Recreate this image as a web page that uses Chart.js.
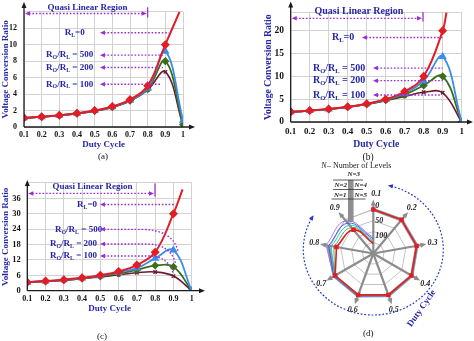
<!DOCTYPE html>
<html><head><meta charset="utf-8">
<script src="https://cdn.jsdelivr.net/npm/chart.js@4.4.1/dist/chart.umd.min.js"></script>
<style>
html,body{margin:0;padding:0;background:#fff;}
body{width:474px;height:341px;position:relative;overflow:hidden;}
canvas{position:absolute;}
</style></head><body>
<canvas id="ca" width="237" height="170" style="left:0;top:0"></canvas>
<canvas id="cb" width="234" height="170" style="left:240px;top:0"></canvas>
<canvas id="cc" width="237" height="171" style="left:0;top:170px"></canvas>
<canvas id="cd" width="234" height="181" style="left:240px;top:160px"></canvas>
<script>
// ---------------- DATA ----------------
const dutyCycle = [0.1,0.2,0.3,0.4,0.5,0.6,0.7,0.8,0.9,1.0];
const dutyTickLabels = ['0.1','0.2','0.3','0.4','0.5','0.6','0.7','0.8','0.9','1'];

// panel (a)
const aIdealDuty = [0.1,0.2,0.3,0.4,0.5,0.6,0.7,0.8,0.9,0.98];
const aIdeal     = [1.11,1.25,1.43,1.67,2.0,2.5,3.33,5.0,10.0,14.0];
const aRatio500  = [1.1,1.24,1.42,1.65,1.98,2.45,3.25,4.7,9.2,0.8];
const aRatio200  = [1.1,1.23,1.41,1.64,1.96,2.42,3.2,4.6,8.0,0.3];
const aRatio100  = [1.09,1.22,1.4,1.62,1.93,2.38,3.15,4.5,6.7,0.2];
const aYTicks = [0,2,4,6,8,10,12,14];
const aYTickLabels = ['0','2','4','6','8','10','12',''];

// panel (b)
const bIdealDuty = [0.1,0.2,0.3,0.4,0.5,0.6,0.7,0.8,0.9,0.92];
const bIdeal     = [2.22,2.5,2.86,3.33,4.0,5.0,6.67,10.0,20.0,24.0];
const bRatio500  = [2.2,2.48,2.83,3.3,3.95,4.9,6.3,9.0,14.3,0];
const bRatio200  = [2.2,2.47,2.82,3.28,3.9,4.8,6.0,8.0,10.0,0];
const bRatio100  = [2.18,2.45,2.8,3.25,3.85,4.65,5.6,6.5,6.4,0];
const bYTicks = [0,5,10,15,20,24];
const bYTickLabels = ['0','5','10','15','20',''];

// panel (c)
const cIdealDuty = [0.1,0.2,0.3,0.4,0.5,0.6,0.7,0.8,0.9,0.95];
const cIdeal     = [3.33,3.75,4.29,5.0,6.0,7.5,10.0,15.0,30.0,39.5];
const cRatio500  = [3.3,3.7,4.2,4.9,5.8,7.1,8.8,12.6,15.8,0];
const cRatio200  = [3.3,3.68,4.15,4.8,5.6,6.7,8.1,9.8,9.3,0];
const cRatio100  = [3.28,3.65,4.1,4.7,5.4,6.2,7.0,7.3,5.7,0];
const cYTicks = [0,6,12,18,24,30,36,42];
const cYTickLabels = ['0','6','12','18','24','30','36',''];

// panel (d) radar (value axis reversed: 0 outside)
const radarDuty = ['0.1','0.2','0.3','0.4','0.5','0.6','0.7','0.8','0.9'];
const levelN1 = [0,0,0,0,0,0,0,30,60];
const levelN2 = [0,0,0,-1,-2,-2,-3,18,46];
const levelN3 = [0,0,-1,-2,-3,-4,-5,6,33];
const levelN4 = [0,-1,-1,-3,-4,-5,-7,-6,20];
const levelN5 = [0,-1,-2,-3,-5,-6,-8,-18,6];
const levelAtDutyOne = [155,148,141,134,127];
const radarTicks = [0,50,100];

// ---------------- STYLE ----------------
const SERIF = '"Liberation Serif","Times New Roman",serif';
const TXT_BLUE = '#2626a6', PURPLE = '#9b2bd8';
const RED = '#e31d25', BLUE = '#3a8ee8', GREEN = '#3b6e1c', BROWN = '#6b1c2c';

function head(ctx, x, y, ang, len, wid, col) {
  ctx.save(); ctx.translate(x, y); ctx.rotate(ang);
  ctx.beginPath(); ctx.moveTo(0, 0); ctx.lineTo(-len, -wid/2); ctx.lineTo(-len, wid/2); ctx.closePath();
  ctx.fillStyle = col; ctx.fill(); ctx.restore();
}
function richText(ctx, parts, x, y, size, color) {
  let cx = x;
  ctx.fillStyle = color; ctx.textBaseline = 'middle'; ctx.textAlign = 'left';
  for (const [t, sub] of parts) {
    const s = sub ? size * 0.65 : size;
    ctx.font = `bold ${s}px ${SERIF}`;
    ctx.fillText(t, cx, sub ? y + size * 0.3 : y);
    cx += ctx.measureText(t).width;
  }
}
function annotPlugin(an) {
  return {
    id: 'annot' + an.key,
    afterDraw(chart) {
      const {ctx, chartArea: ca, scales: {x, y}} = chart;
      const X = v => x.getPixelForValue(v), Y = v => y.getPixelForValue(v);
      ctx.save();
      ctx.strokeStyle = '#1a1a1a'; ctx.lineWidth = 1.3; ctx.setLineDash([]);
      ctx.beginPath(); ctx.moveTo(ca.left, ca.bottom); ctx.lineTo(ca.left, an.yTip + 4); ctx.stroke();
      head(ctx, ca.left, an.yTip, -Math.PI/2, 6, 5, '#1a1a1a');
      ctx.beginPath(); ctx.moveTo(ca.left, ca.bottom); ctx.lineTo(an.xTip - 4, ca.bottom); ctx.stroke();
      head(ctx, an.xTip, ca.bottom, 0, 6, 5, '#1a1a1a');
      const q = an.quasi;
      ctx.font = `bold ${an.fs}px ${SERIF}`; ctx.fillStyle = TXT_BLUE;
      ctx.textAlign = 'center'; ctx.textBaseline = 'middle';
      ctx.fillText(q.text, X(q.tx), Y(q.ty));
      ctx.strokeStyle = PURPLE; ctx.lineWidth = 1.4; ctx.setLineDash([1.6, 1.8]);
      ctx.beginPath(); ctx.moveTo(X(q.x0) + 5, Y(q.ay)); ctx.lineTo(X(q.x1) - 5, Y(q.ay)); ctx.stroke();
      head(ctx, X(q.x0) + 1, Y(q.ay), Math.PI, 5, 4.5, PURPLE);
      head(ctx, X(q.x1) - 1, Y(q.ay), 0, 5, 4.5, PURPLE);
      ctx.setLineDash([]); ctx.lineWidth = 1.2;
      ctx.beginPath(); ctx.moveTo(X(q.x1), Y(q.b0)); ctx.lineTo(X(q.x1), Y(q.b1)); ctx.stroke();
      for (const L of an.labels) {
        richText(ctx, L.parts, X(L.x), Y(L.y), an.fs, TXT_BLUE);
        ctx.strokeStyle = PURPLE; ctx.lineWidth = 1.4; ctx.setLineDash([1.6, 1.8]);
        ctx.beginPath(); ctx.moveTo(X(L.a0) + 4, Y(L.y));
        if (L.bend !== undefined) {
          ctx.lineTo(X(L.bend), Y(L.y));
          ctx.quadraticCurveTo(X(L.cx), Y(L.y), X(L.ex), Y(L.ey));
        } else {
          ctx.lineTo(X(L.a1), Y(L.y));
        }
        ctx.stroke();
        ctx.setLineDash([]);
        head(ctx, X(L.a0), Y(L.y), Math.PI, 5, 4.5, PURPLE);
      }
      ctx.font = `${an.capFs}px ${SERIF}`; ctx.fillStyle = '#111';
      ctx.textAlign = 'center'; ctx.textBaseline = 'middle';
      ctx.fillText(an.caption, an.capX, an.capY);
      ctx.restore();
    }
  };
}

function pts(xs, ys) { return ys.map((v, i) => ({x: xs[i], y: v})); }

function makeDatasets(idealX, ideal, r500, r200, r100) {
  return [
    {data: pts(idealX, ideal), borderColor: RED, backgroundColor: RED, borderWidth: 2,
     pointStyle: 'rectRot', pointRadius: ideal.map((v, i) => i < 9 ? 3.1 : 0)},
    {data: pts(dutyCycle, r500), borderColor: BLUE, backgroundColor: BLUE, borderWidth: 1.8,
     pointStyle: 'triangle', pointRadius: 3},
    {data: pts(dutyCycle, r200), borderColor: GREEN, backgroundColor: GREEN, borderWidth: 1.8,
     pointStyle: 'rectRot', pointRadius: 2.8},
    {data: pts(dutyCycle, r100), borderColor: BROWN, backgroundColor: BROWN, borderWidth: 1.6,
     pointStyle: 'crossRot', pointRadius: 2.4, pointBorderWidth: 1.4}
  ];
}

function lineChart(id, c) {
  return new Chart(document.getElementById(id), {
    type: 'line',
    data: {datasets: c.datasets},
    options: {
      responsive: false, animation: false, devicePixelRatio: 1,
      layout: {padding: c.padding},
      plugins: {legend: {display: false}, tooltip: {enabled: false}},
      elements: {line: {tension: 0.4}},
      scales: {
        x: {type: 'linear', min: 0.1, max: 1.0,
            afterBuildTicks: ax => { ax.ticks = dutyCycle.map(v => ({value: v})); },
            afterFit: ax => { ax.height = c.xAxisH; },
            grid: {color: '#d2d2d2', drawTicks: false}, border: {display: false},
            ticks: {padding: c.xTickPad, color: '#111', autoSkip: false, maxRotation: 0,
                    font: {family: SERIF, weight: 'bold', size: c.xTickFs},
                    callback: (v, i) => dutyTickLabels[i]},
            title: {display: true, text: 'Duty Cycle', color: TXT_BLUE, padding: 0,
                    font: {family: SERIF, weight: 'bold', size: c.titleFs}}},
        y: {type: 'linear', min: 0, max: c.yTicks[c.yTicks.length - 1],
            afterBuildTicks: ax => { ax.ticks = c.yTicks.map(v => ({value: v})); },
            afterFit: ax => { ax.width = c.yAxisW; },
            grid: {color: '#d2d2d2', drawTicks: false}, border: {display: false},
            ticks: {padding: c.yTickPad, color: '#111', autoSkip: false,
                    font: {family: SERIF, weight: 'bold', size: c.yTickFs},
                    callback: (v, i) => c.yTickLabels[i]},
            title: {display: true, text: 'Voltage Conversion Ratio', color: TXT_BLUE, padding: 0,
                    font: {family: SERIF, weight: 'bold', size: c.titleFs}}}
      }
    },
    plugins: [annotPlugin(c.annot)]
  });
}

const RL0 = [['R',0],['L',1],['=0',0]];
const RO500 = [['R',0],['O',1],['/R',0],['L',1],[' = 500',0]];
const RO200 = [['R',0],['O',1],['/R',0],['L',1],[' = 200',0]];
const RO100 = [['R',0],['O',1],['/R',0],['L',1],[' = 100',0]];

lineChart('ca', {
  datasets: makeDatasets(aIdealDuty, aIdeal, aRatio500, aRatio200, aRatio100),
  padding: {left: 0, right: 54, top: 11.5, bottom: 20}, xAxisH: 23, yAxisW: 24,
  xTickPad: 3.2, yTickPad: 7, xTickFs: 8, yTickFs: 8, titleFs: 9,
  yTicks: aYTicks, yTickLabels: aYTickLabels,
  annot: {key: 'a', fs: 9, yTip: 2, xTip: 195, caption: '(a)', capX: 103, capY: 157, capFs: 9,
    quasi: {text: 'Quasi Linear Region', tx: 0.46, ty: 14.5, ay: 13.8, x0: 0.1, x1: 0.8, b0: 14.55, b1: 13.3},
    labels: [
      {parts: RL0, x: 0.33, y: 11.45, a0: 0.53, a1: 0.92},
      {parts: RO500, x: 0.225, y: 8.73, a0: 0.53, a1: 0.886},
      {parts: RO200, x: 0.225, y: 7.24, a0: 0.53, a1: 0.886},
      {parts: RO100, x: 0.225, y: 5.2, a0: 0.53, a1: 0.87}
    ]}
});

lineChart('cb', {
  datasets: makeDatasets(bIdealDuty, bIdeal, bRatio500, bRatio200, bRatio100),
  padding: {left: 22.6, right: 12.3, top: 8, bottom: 19.6}, xAxisH: 28.4, yAxisW: 28.1,
  xTickPad: 4.2, yTickPad: 6.7, xTickFs: 9, yTickFs: 9.5, titleFs: 9.7,
  yTicks: bYTicks, yTickLabels: bYTickLabels,
  annot: {key: 'b', fs: 10, yTip: 1.5, xTip: 233, caption: '(b)', capX: 128, capY: 157, capFs: 9.5,
    quasi: {text: 'Quasi Linear Region', tx: 0.459, ty: 24.2, ay: 22.7, x0: 0.1, x1: 0.796, b0: 24.1, b1: 22.0},
    labels: [
      {parts: RL0, x: 0.317, y: 18.5, a0: 0.475, a1: 0.9},
      {parts: RO500, x: 0.217, y: 11.8, a0: 0.533, a1: 0.9},
      {parts: RO200, x: 0.217, y: 9.05, a0: 0.533, a1: 0.9},
      {parts: RO100, x: 0.217, y: 5.9, a0: 0.533, a1: 0.886}
    ]}
});

lineChart('cc', {
  datasets: makeDatasets(cIdealDuty, cIdeal, cRatio500, cRatio200, cRatio100),
  padding: {left: 0, right: 45.3, top: 12.9, bottom: 26.6}, xAxisH: 23.7, yAxisW: 27.3,
  xTickPad: 3.5, yTickPad: 6.5, xTickFs: 8, yTickFs: 8.5, titleFs: 9,
  yTicks: cYTicks, yTickLabels: cYTickLabels,
  annot: {key: 'c', fs: 9, yTip: 10, xTip: 205, caption: '(c)', capX: 102, capY: 167, capFs: 9,
    quasi: {text: 'Quasi Linear Region', tx: 0.457, ty: 40.5, ay: 37.9, x0: 0.1, x1: 0.799, b0: 41.8, b1: 36.6},
    labels: [
      {parts: RL0, x: 0.372, y: 33.6, a0: 0.498, a1: 0.908},
      {parts: RO500, x: 0.252, y: 23.9, a0: 0.498, bend: 0.72, cx: 0.9, ex: 0.926, ey: 15},
      {parts: RO200, x: 0.224, y: 18.2, a0: 0.498, bend: 0.75, cx: 0.885, ex: 0.912, ey: 10.5},
      {parts: RO100, x: 0.224, y: 13.5, a0: 0.498, bend: 0.77, cx: 0.87, ex: 0.9, ey: 6.5}
    ]}
});

// ---------------- RADAR (d) ----------------
const levelSeries = [levelN1, levelN2, levelN3, levelN4, levelN5];
const levelColors = [RED, '#2fb52f', '#2ab6d8', '#3350e8', '#a673e0'];
const radarSets = [];
levelSeries.forEach((vals, k) => {
  const w = k === 0 ? 1.6 : 0.9;
  radarSets.push({data: vals.slice(0, 8).concat([null]), borderColor: levelColors[k],
    backgroundColor: levelColors[k], borderWidth: w, fill: false, tension: 0, spanGaps: false,
    pointStyle: 'rect', pointRadius: k === 0 ? 2 : 0});
  radarSets.push({data: [levelAtDutyOne[k], null, null, null, null, null, null, vals[7], vals[8]],
    borderColor: levelColors[k], backgroundColor: levelColors[k], borderWidth: w, fill: false,
    tension: 0.45, spanGaps: false, pointStyle: 'rect',
    pointRadius: k === 0 ? [0,0,0,0,0,0,0,0,2] : 0});
});
radarSets.push({data: [0,0,-1,-2,-3,-4,-5,-8,null], borderColor: '#9a9a9a', borderWidth: 3.4,
  fill: false, tension: 0, spanGaps: false, pointRadius: 0});

const radarDeco = {
  id: 'radarDeco',
  beforeDatasetsDraw(chart) {
    const {ctx} = chart; const r = chart.scales.r;
    ctx.save();
    ctx.strokeStyle = '#b4b4b4'; ctx.lineWidth = 0.8;
    ctx.beginPath();
    radarDuty.forEach((l, i) => { const p = r.getPointPositionForValue(i, 0); i ? ctx.lineTo(p.x, p.y) : ctx.moveTo(p.x, p.y); });
    ctx.closePath(); ctx.stroke();
    ctx.strokeStyle = '#8c8c8c'; ctx.lineWidth = 2.2;
    radarDuty.forEach((l, i) => {
      const tip = r.getPointPosition(i, 54);
      const b = r.getPointPosition(i, 49);
      ctx.beginPath(); ctx.moveTo(r.xCenter, r.yCenter); ctx.lineTo(b.x, b.y); ctx.stroke();
      head(ctx, tip.x, tip.y, Math.atan2(tip.y - r.yCenter, tip.x - r.xCenter), 6, 5, '#8c8c8c');
    });
    ctx.restore();
  },
  afterDatasetsDraw(chart) {
    const {ctx} = chart; const r = chart.scales.r;
    ctx.save();
    ctx.font = `italic bold 8px ${SERIF}`; ctx.fillStyle = '#222';
    ctx.textAlign = 'center'; ctx.textBaseline = 'middle';
    radarDuty.forEach((l, i) => { const p = r.getPointPosition(i, 60); ctx.fillText(l, p.x + (i === 0 ? 3 : 0), p.y); });
    const bases = ['bottom', 'middle', 'top'];
    radarTicks.forEach((v, k) => {
      ctx.textAlign = 'left'; ctx.textBaseline = bases[k];
      ctx.fillText(String(v), r.xCenter + 2, r.yCenter - r.getDistanceFromCenterForValue(v));
    });
    ctx.fillStyle = '#a9a9a9'; ctx.fillRect(108, 20, 5.5, 42);
    ctx.strokeStyle = '#777'; ctx.lineWidth = 0.6;
    for (let k = 0; k < 5; k++) { ctx.beginPath(); ctx.moveTo(108.5 + k * 1.1, 20); ctx.lineTo(108.5 + k * 1.1, 62); ctx.stroke(); }
    ctx.strokeStyle = '#333'; ctx.lineWidth = 0.8;
    [[20, 93, 123], [29.5, 93, 123], [39, 91.5, 125.5]].forEach(([yy, x0, x1]) => {
      ctx.beginPath(); ctx.moveTo(x0, yy); ctx.lineTo(x1, yy); ctx.stroke();
    });
    ctx.fillStyle = '#222'; ctx.font = `italic bold 7px ${SERIF}`; ctx.textBaseline = 'middle';
    ctx.textAlign = 'center'; ctx.fillText('N=3', 113.8, 14.5);
    ctx.textAlign = 'right'; ctx.fillText('N=2', 107, 25); ctx.fillText('N=1', 106.5, 34.8);
    ctx.textAlign = 'left'; ctx.fillText('N=4', 114.5, 25); ctx.fillText('N=5', 114.5, 34.8);
    ctx.font = `italic 8px ${SERIF}`; ctx.textAlign = 'left';
    const t1 = 'N', t2 = '\u2013 Number of Levels';
    const w1 = ctx.measureText(t1).width;
    ctx.font = `8px ${SERIF}`;
    const w2 = ctx.measureText(t2).width;
    const sx = 116 - (w1 + w2) / 2;
    ctx.font = `italic 8px ${SERIF}`; ctx.fillText(t1, sx, 6);
    ctx.font = `8px ${SERIF}`; ctx.fillText(t2, sx + w1 + 0.5, 6);
    const ex = 133.3, ey = 89.5, rx = 70, ry = 65.5;
    const a0 = -78 * Math.PI / 180, a1 = 211.5 * Math.PI / 180;
    ctx.strokeStyle = '#2a36c8'; ctx.lineWidth = 1.2; ctx.setLineDash([1.8, 1.8]);
    ctx.beginPath(); ctx.ellipse(ex, ey, rx, ry, 0, a0 + 0.05, a1 - 0.05, false); ctx.stroke();
    ctx.setLineDash([]);
    const P = a => [ex + rx * Math.cos(a), ey + ry * Math.sin(a)];
    const T = a => Math.atan2(ry * Math.cos(a), -rx * Math.sin(a));
    let [px, py] = P(a0); head(ctx, px, py, T(a0) + Math.PI, 5, 4.5, '#2a36c8');
    [px, py] = P(a1); head(ctx, px, py, T(a1), 5, 4.5, '#2a36c8');
    ctx.save(); ctx.translate(181.7, 148.3); ctx.rotate(-55 * Math.PI / 180);
    ctx.font = `bold 9px ${SERIF}`; ctx.fillStyle = TXT_BLUE; ctx.textAlign = 'center'; ctx.textBaseline = 'middle';
    ctx.fillText('Duty Cycle', 0, 0); ctx.restore();
    ctx.font = `9px ${SERIF}`; ctx.fillStyle = '#111'; ctx.textAlign = 'center'; ctx.textBaseline = 'middle';
    ctx.fillText('(d)', 128.3, 174);
    ctx.restore();
  }
};

new Chart(document.getElementById('cd'), {
  type: 'radar',
  data: {labels: radarDuty, datasets: radarSets},
  options: {
    responsive: false, animation: false, devicePixelRatio: 1,
    layout: {padding: 0},
    plugins: {legend: {display: false}, tooltip: {enabled: false}},
    scales: {
      r: {min: 0, max: 200, reverse: true,
          ticks: {display: false, stepSize: 50},
          grid: {color: '#b4b4b4', lineWidth: 0.8},
          angleLines: {display: false},
          pointLabels: {display: false},
          afterFit: s => { s.drawingArea = 44; s.xCenter = 133.3; s.yCenter = 93.5; }}
    }
  },
  plugins: [radarDeco]
});
</script>
</body></html>
